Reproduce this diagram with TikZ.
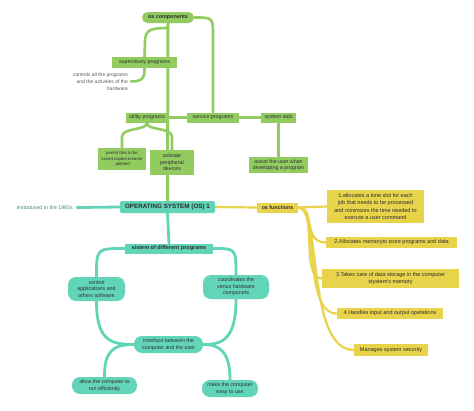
\documentclass[tikz,border=0pt]{standalone}
\usepackage{fontspec}
\setmainfont{Liberation Sans}
\definecolor{gr}{RGB}{146,204,97}
\definecolor{tl}{RGB}{98,212,183}
\definecolor{yl}{RGB}{233,211,74}
\definecolor{tx}{RGB}{45,45,45}
\definecolor{note}{RGB}{90,90,90}
\definecolor{tnote}{RGB}{70,140,125}
\pgfdeclarelayer{bg}
\pgfdeclarelayer{lines}
\pgfsetlayers{bg,lines,main}
\tikzset{
  base/.style={inner sep=0pt, align=center, text=tx, font=\fontsize{5.3}{6.4}\selectfont},
  gbox/.style={base, fill=gr},
  tbox/.style={base, fill=tl},
  ybox/.style={base, fill=yl, font=\fontsize{5.5}{7.4}\selectfont},
  pill/.style={tbox, rounded corners=8pt},
  gline/.style={draw=gr, line width=2.6pt, line cap=round},
  tline/.style={draw=tl, line width=2.8pt, line cap=round},
  yline/.style={draw=yl, line width=2.2pt, line cap=round},
}
\begin{document}
\begin{tikzpicture}[x=1pt,y=-1pt]
\useasboundingbox (0,0) rectangle (474,410);
\begin{pgfonlayer}{bg}
\fill[white] (0,0) rectangle (474,410);
\end{pgfonlayer}
% nodes
\node[gbox, rounded corners=5.5pt, minimum width=52pt, minimum height=11pt, font=\bfseries\fontsize{5.4}{6}\selectfont] (osc) at (168,17.5) {os components};
\node[gbox, minimum width=65pt, minimum height=11pt] (sup) at (144.5,62.5) {supervisory programs};
\node[base, anchor=east, align=right, text=note, font=\fontsize{5}{7}\selectfont] (supnote) at (128,82) {controls all the programs\\and the activities of the\\hardware};
\node[gbox, minimum width=42pt, minimum height=10pt] (util) at (147,117.5) {utility programs};
\node[gbox, minimum width=52pt, minimum height=10pt] (serv) at (213,117.5) {service programs};
\node[gbox, minimum width=35pt, minimum height=10pt] (aids) at (278.5,117.5) {system aids};
\node[gbox, minimum width=48pt, minimum height=22pt, font=\fontsize{4.3}{5.4}\selectfont] (perm) at (122,159) {permit files to be\\saved,copied,rename\\,deleted};
\node[gbox, minimum width=44pt, minimum height=25pt] (act) at (172,162.5) {activate\\peripheral\\devices};
\node[gbox, minimum width=59pt, minimum height=16pt] (assist) at (278.5,165) {assist the user when\\developing a program};
\node[tbox, rounded corners=1.5pt, minimum width=95pt, minimum height=12pt, font=\bfseries\fontsize{6.3}{7}\selectfont] (os) at (167.5,207) {OPERATING SYSTEM (OS) 1};
\node[base, anchor=east, text=tnote] (intro) at (73,207.5) {instodused in the 1960s};
\node[base, fill=yl, minimum width=41pt, minimum height=10pt, font=\bfseries\fontsize{5.3}{6}\selectfont] (fn) at (277.5,207.5) {os functions};
\node[ybox, minimum width=97pt, minimum height=33pt] (y1) at (375.5,206.5) {1.allocates a time slot for each\\job that needs to be processed\\and minimizes the time needed to\\execute a user command};
\node[ybox, minimum width=131pt, minimum height=11pt] (y2) at (391.5,242.5) {2.Allocates memoryto store programs and data};
\node[ybox, minimum width=137pt, minimum height=19pt] (y3) at (390.5,278.5) {3.Takes care of data storage in the computer\\stystem's memory};
\node[ybox, minimum width=106pt, minimum height=11pt] (y4) at (390,313.5) {4.Handles input and output opetations};
\node[ybox, minimum width=74pt, minimum height=12pt] (y5) at (391,350) {Manages system security};
\node[tbox, minimum width=88pt, minimum height=10pt, font=\bfseries\fontsize{5.5}{6}\selectfont] (sys) at (169,248.5) {sistem of different programs};
\node[pill, minimum width=57pt, minimum height=24pt] (ctrl) at (96.5,289) {control\\applications and\\others software};
\node[pill, minimum width=66pt, minimum height=24pt] (coord) at (236,287) {coordinates the\\verius hardware\\componets};
\node[pill, minimum width=69pt, minimum height=17pt] (iface) at (168.5,344.5) {interface between the\\computer and the user};
\node[pill, minimum width=65pt, minimum height=17pt] (allow) at (104.5,385.5) {allow the computer to\\run efficiently};
\node[pill, minimum width=56pt, minimum height=17pt] (make) at (230,388.5) {make the computer\\easy to use};
% free ends
\coordinate (tr1) at (168,28);
\coordinate (noteend) at (131,81.5);
\coordinate (introend) at (77,207.5);
% connectors
\begin{pgfonlayer}{lines}
\draw[gline, line width=3pt] (osc.south) -- (os.north);
\draw[gline] (tr1) .. controls (150,28) and (145,30) .. (145,42) -- (sup.north);
\draw[gline] (sup.south) .. controls (145,78) and (142,81.5) .. (noteend);
\draw[gline] (osc.east) .. controls (213,17.5) .. (213,36) -- (serv.north);
\draw[gline] (util.east) -- (serv.west);
\draw[gline] (serv.east) -- (aids.west);
\draw[gline] (aids.south) -- (assist.north);
\draw[gline] (util.south) .. controls (147,131) and (122,127) .. (122,137) -- (perm.north);
\draw[gline] (util.south) .. controls (147,131) and (172,127) .. (172,137) -- (act.north);
\draw[tline] (introend) -- (os.west);
\draw[yline] (os.east) -- (fn.west);
\draw[tline] (os.south) -- (sys.north);
\draw[yline] (fn.east) -- (y1.west);
\draw[yline] (fn.east) .. controls (316,207) and (302,242.5) .. (y2.west);
\draw[yline] (fn.east) .. controls (318,207) and (300,278.5) .. (y3.west);
\draw[yline] (fn.east) .. controls (320,207) and (302,313.5) .. (y4.west);
\draw[yline] (fn.east) .. controls (322,207) and (306,350) .. (y5.west);
\draw[tline] (sys.west) .. controls (96.5,248.5) .. (ctrl.north);
\draw[tline] (sys.east) .. controls (236,248.5) .. (coord.north);
\draw[tline] (ctrl.south) .. controls (96.5,340) and (110,344.5) .. (iface.west);
\draw[tline] (coord.south) .. controls (236,340) and (222,344.5) .. (iface.east);
\draw[tline] (iface.west) .. controls (112,344.5) and (104.5,352) .. (allow.north);
\draw[tline] (iface.east) .. controls (220,344.5) and (230,352) .. (make.north);
\end{pgfonlayer}
\end{tikzpicture}
\end{document}
